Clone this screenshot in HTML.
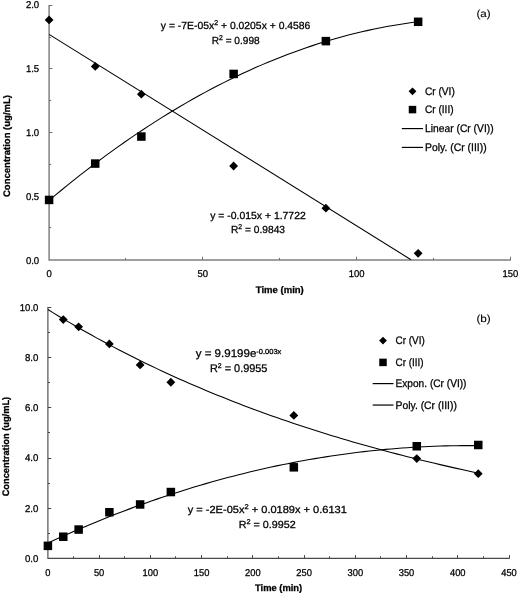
<!DOCTYPE html>
<html lang="en"><head><meta charset="utf-8"><title>Cr concentration vs time</title>
<style>
html,body{margin:0;padding:0;background:#fff}
svg{display:block}
text{font-family:"Liberation Sans", sans-serif;fill:#000;stroke:#000;stroke-width:0.28px;text-rendering:geometricPrecision}
</style></head><body>
<svg width="520" height="595" viewBox="0 0 520 595">
<rect width="520" height="595" fill="#fff"/>
<g stroke="#808080" stroke-width="1.5" fill="none">
<path d="M49.10 4.90V260.00H510.90"/>
<path d="M49.10 227.50h2.1M49.10 196.50h3.3M49.10 164.50h2.1M49.10 132.50h3.3M49.10 100.50h2.1M49.10 68.50h3.3M49.10 37.50h2.1M49.10 5.50h3.3M125.50 260.00v-2.1M202.50 260.00v-3.3M279.50 260.00v-2.1M356.50 260.00v-3.3M433.50 260.00v-2.1M510.50 260.00v-3.3" stroke-width="1" stroke="#707070"/>
</g>
<path d="M49.10 34.36L410.99 259.70" fill="none" stroke="#000" stroke-width="1.08" stroke-linejoin="round"/>
<path d="M49.10 200.44L55.35 195.19L61.61 190.01L67.86 184.91L74.12 179.89L80.37 174.94L86.63 170.07L92.88 165.28L99.14 160.57L105.39 155.93L111.65 151.37L117.90 146.88L124.16 142.47L130.41 138.14L136.67 133.88L142.92 129.71L149.18 125.60L155.43 121.58L161.69 117.63L167.94 113.76L174.20 109.96L180.45 106.24L186.71 102.60L192.96 99.04L199.22 95.55L205.47 92.14L211.73 88.80L217.98 85.54L224.24 82.36L230.49 79.26L236.75 76.23L243.00 73.28L249.26 70.40L255.51 67.61L261.77 64.88L268.02 62.24L274.28 59.67L280.53 57.18L286.79 54.76L293.04 52.43L299.30 50.17L305.55 47.98L311.81 45.87L318.06 43.84L324.32 41.89L330.57 40.01L336.83 38.21L343.08 36.48L349.34 34.84L355.59 33.27L361.85 31.77L368.10 30.35L374.36 29.01L380.61 27.75L386.87 26.56L393.12 25.45L399.38 24.42L405.63 23.46L411.89 22.58L418.14 21.77" fill="none" stroke="#000" stroke-width="1.08" stroke-linejoin="round"/>
<path d="M49.10 15.50L53.50 19.90L49.10 24.30L44.70 19.90Z"/>
<path d="M95.23 62.03L99.63 66.43L95.23 70.83L90.83 66.43Z"/>
<path d="M141.36 89.75L145.76 94.15L141.36 98.55L136.96 94.15Z"/>
<path d="M233.62 161.59L238.02 165.99L233.62 170.39L229.22 165.99Z"/>
<path d="M325.88 203.80L330.28 208.20L325.88 212.60L321.48 208.20Z"/>
<path d="M418.14 248.94L422.54 253.34L418.14 257.74L413.74 253.34Z"/>
<rect x="44.85" y="195.69" width="8.50" height="8.50"/>
<rect x="90.98" y="159.32" width="8.50" height="8.50"/>
<rect x="137.11" y="132.31" width="8.50" height="8.50"/>
<rect x="229.37" y="69.68" width="8.50" height="8.50"/>
<rect x="321.63" y="36.88" width="8.50" height="8.50"/>
<rect x="413.89" y="17.55" width="8.50" height="8.50"/>
<text x="39.20" y="264.00" font-size="9.9" text-anchor="end" textLength="13.30" lengthAdjust="spacingAndGlyphs">0.0</text>
<text x="39.20" y="200.00" font-size="9.9" text-anchor="end" textLength="13.30" lengthAdjust="spacingAndGlyphs">0.5</text>
<text x="39.20" y="136.00" font-size="9.9" text-anchor="end" textLength="13.30" lengthAdjust="spacingAndGlyphs">1.0</text>
<text x="39.20" y="72.00" font-size="9.9" text-anchor="end" textLength="13.30" lengthAdjust="spacingAndGlyphs">1.5</text>
<text x="39.20" y="8.00" font-size="9.9" text-anchor="end" textLength="13.30" lengthAdjust="spacingAndGlyphs">2.0</text>
<text x="49.10" y="277.30" font-size="9.9" text-anchor="middle" textLength="5.30" lengthAdjust="spacingAndGlyphs">0</text>
<text x="202.87" y="277.30" font-size="9.9" text-anchor="middle" textLength="10.60" lengthAdjust="spacingAndGlyphs">50</text>
<text x="356.63" y="277.30" font-size="9.9" text-anchor="middle" textLength="15.80" lengthAdjust="spacingAndGlyphs">100</text>
<text x="510.40" y="277.30" font-size="9.9" text-anchor="middle" textLength="15.80" lengthAdjust="spacingAndGlyphs">150</text>
<text x="279.80" y="293.30" font-size="9.5" text-anchor="middle" font-weight="bold" textLength="48.00" lengthAdjust="spacingAndGlyphs">Time (min)</text>
<text transform="translate(10.1 146) rotate(-90)" font-size="9.5" font-weight="bold" text-anchor="middle" textLength="102" lengthAdjust="spacingAndGlyphs">Concentration (ug/mL)</text>
<text x="476.40" y="17.40" font-size="10.3" textLength="14.20" lengthAdjust="spacingAndGlyphs" style="stroke-width:0.1px">(a)</text>
<text x="235.60" y="29.00" font-size="10.3" text-anchor="middle" textLength="149.50" lengthAdjust="spacingAndGlyphs">y = -7E-05x<tspan font-size="7" dy="-4">2</tspan><tspan dy="4"> + 0.0205x + 0.4586</tspan></text>
<text x="235.70" y="44.00" font-size="10.3" text-anchor="middle" textLength="48.00" lengthAdjust="spacingAndGlyphs">R<tspan font-size="7" dy="-4">2</tspan><tspan dy="4"> = 0.998</tspan></text>
<text x="258.00" y="218.50" font-size="10.3" text-anchor="middle" textLength="95.50" lengthAdjust="spacingAndGlyphs">y = -0.015x + 1.7722</text>
<text x="258.00" y="233.20" font-size="10.3" text-anchor="middle" textLength="54.00" lengthAdjust="spacingAndGlyphs">R<tspan font-size="7" dy="-4">2</tspan><tspan dy="4"> = 0.9843</tspan></text>
<path d="M412.50 87.40L416.40 91.30L412.50 95.20L408.60 91.30Z"/>
<rect x="408.75" y="105.85" width="7.50" height="7.50"/>
<path d="M401.80 128.60L423.00 128.60" fill="none" stroke="#000" stroke-width="1.15" stroke-linejoin="round"/>
<path d="M401.80 147.40L423.00 147.40" fill="none" stroke="#000" stroke-width="1.15" stroke-linejoin="round"/>
<text x="425.00" y="94.70" font-size="10.9" textLength="29.80" lengthAdjust="spacingAndGlyphs">Cr (VI)</text>
<text x="425.00" y="113.30" font-size="10.9" textLength="28.60" lengthAdjust="spacingAndGlyphs">Cr (III)</text>
<text x="425.00" y="132.00" font-size="10.9" textLength="68.60" lengthAdjust="spacingAndGlyphs">Linear (Cr (VI))</text>
<text x="425.00" y="150.80" font-size="10.9" textLength="61.60" lengthAdjust="spacingAndGlyphs">Poly. (Cr (III))</text>
<g stroke="#4a4a4a" stroke-width="1.15" fill="none">
<path d="M47.90 306.90V558.40H509.60"/>
<path d="M47.90 533.50h2.1M47.90 508.50h3.3M47.90 483.50h2.1M47.90 458.50h3.3M47.90 432.50h2.1M47.90 407.50h3.3M47.90 382.50h2.1M47.90 357.50h3.3M47.90 332.50h2.1M47.90 307.50h3.3M73.50 558.40v-2.1M99.50 558.40v-3.3M124.50 558.40v-2.1M150.50 558.40v-3.3M175.50 558.40v-2.1M201.50 558.40v-3.3M227.50 558.40v-2.1M252.50 558.40v-3.3M278.50 558.40v-2.1M304.50 558.40v-3.3M329.50 558.40v-2.1M355.50 558.40v-3.3M380.50 558.40v-2.1M406.50 558.40v-3.3M432.50 558.40v-2.1M457.50 558.40v-3.3M483.50 558.40v-2.1M509.50 558.40v-3.3" stroke-width="1" stroke="#444"/>
</g>
<path d="M47.90 309.51L53.35 312.86L58.80 316.17L64.24 319.43L69.69 322.65L75.14 325.82L80.59 328.95L86.03 332.04L91.48 335.09L96.93 338.10L102.38 341.06L107.82 343.99L113.27 346.88L118.72 349.73L124.17 352.54L129.61 355.31L135.06 358.04L140.51 360.74L145.96 363.40L151.40 366.03L156.85 368.62L162.30 371.17L167.75 373.70L173.19 376.18L178.64 378.64L184.09 381.06L189.54 383.44L194.99 385.80L200.43 388.12L205.88 390.42L211.33 392.68L216.78 394.91L222.22 397.11L227.67 399.28L233.12 401.43L238.57 403.54L244.01 405.63L249.46 407.68L254.91 409.71L260.36 411.71L265.80 413.69L271.25 415.64L276.70 417.56L282.15 419.46L287.59 421.33L293.04 423.17L298.49 424.99L303.94 426.79L309.38 428.56L314.83 430.31L320.28 432.04L325.73 433.74L331.17 435.42L336.62 437.07L342.07 438.71L347.52 440.32L352.97 441.91L358.41 443.48L363.86 445.02L369.31 446.55L374.76 448.06L380.20 449.54L385.65 451.01L391.10 452.45L396.55 453.88L401.99 455.29L407.44 456.68L412.89 458.05L418.34 459.40L423.78 460.73L429.23 462.05L434.68 463.34L440.13 464.62L445.57 465.89L451.02 467.13L456.47 468.36L461.92 469.57L467.36 470.77L472.81 471.95L478.26 473.11" fill="none" stroke="#000" stroke-width="1.08" stroke-linejoin="round"/>
<path d="M47.90 543.02L53.35 540.51L58.80 538.04L64.24 535.60L69.69 533.19L75.14 530.82L80.59 528.48L86.03 526.17L91.48 523.89L96.93 521.65L102.38 519.44L107.82 517.26L113.27 515.11L118.72 513.00L124.17 510.92L129.61 508.87L135.06 506.86L140.51 504.87L145.96 502.92L151.40 501.01L156.85 499.12L162.30 497.27L167.75 495.45L173.19 493.66L178.64 491.91L184.09 490.18L189.54 488.50L194.99 486.84L200.43 485.21L205.88 483.62L211.33 482.06L216.78 480.54L222.22 479.05L227.67 477.58L233.12 476.16L238.57 474.76L244.01 473.40L249.46 472.07L254.91 470.77L260.36 469.50L265.80 468.27L271.25 467.07L276.70 465.90L282.15 464.77L287.59 463.67L293.04 462.60L298.49 461.56L303.94 460.56L309.38 459.59L314.83 458.65L320.28 457.74L325.73 456.87L331.17 456.03L336.62 455.22L342.07 454.44L347.52 453.70L352.97 452.99L358.41 452.31L363.86 451.66L369.31 451.05L374.76 450.47L380.20 449.92L385.65 449.41L391.10 448.93L396.55 448.48L401.99 448.06L407.44 447.68L412.89 447.32L418.34 447.01L423.78 446.72L429.23 446.47L434.68 446.24L440.13 446.06L445.57 445.90L451.02 445.78L456.47 445.68L461.92 445.63L467.36 445.60L472.81 445.61L478.26 445.65" fill="none" stroke="#000" stroke-width="1.08" stroke-linejoin="round"/>
<path d="M63.27 315.14L67.67 319.54L63.27 323.94L58.87 319.54Z"/>
<path d="M78.64 322.42L83.04 326.82L78.64 331.22L74.24 326.82Z"/>
<path d="M109.38 339.48L113.78 343.88L109.38 348.28L104.98 343.88Z"/>
<path d="M140.12 360.56L144.52 364.96L140.12 369.36L135.72 364.96Z"/>
<path d="M170.86 377.87L175.26 382.27L170.86 386.67L166.46 382.27Z"/>
<path d="M293.82 410.99L298.22 415.39L293.82 419.79L289.42 415.39Z"/>
<path d="M416.78 454.14L421.18 458.54L416.78 462.94L412.38 458.54Z"/>
<path d="M478.26 469.32L482.66 473.72L478.26 478.12L473.86 473.72Z"/>
<rect x="43.65" y="541.61" width="8.50" height="8.50"/>
<rect x="59.02" y="532.47" width="8.50" height="8.50"/>
<rect x="74.39" y="525.30" width="8.50" height="8.50"/>
<rect x="105.13" y="507.98" width="8.50" height="8.50"/>
<rect x="135.87" y="500.21" width="8.50" height="8.50"/>
<rect x="166.61" y="487.79" width="8.50" height="8.50"/>
<rect x="289.57" y="463.07" width="8.50" height="8.50"/>
<rect x="412.53" y="442.00" width="8.50" height="8.50"/>
<rect x="474.01" y="440.74" width="8.50" height="8.50"/>
<text x="38.40" y="562.00" font-size="9.9" text-anchor="end" textLength="13.40" lengthAdjust="spacingAndGlyphs">0.0</text>
<text x="38.40" y="512.00" font-size="9.9" text-anchor="end" textLength="13.40" lengthAdjust="spacingAndGlyphs">2.0</text>
<text x="38.40" y="461.00" font-size="9.9" text-anchor="end" textLength="13.40" lengthAdjust="spacingAndGlyphs">4.0</text>
<text x="38.40" y="411.00" font-size="9.9" text-anchor="end" textLength="13.40" lengthAdjust="spacingAndGlyphs">6.0</text>
<text x="38.40" y="361.00" font-size="9.9" text-anchor="end" textLength="13.40" lengthAdjust="spacingAndGlyphs">8.0</text>
<text x="38.40" y="311.00" font-size="9.9" text-anchor="end" textLength="18.60" lengthAdjust="spacingAndGlyphs">10.0</text>
<text x="47.90" y="575.50" font-size="9.9" text-anchor="middle" textLength="5.20" lengthAdjust="spacingAndGlyphs">0</text>
<text x="99.13" y="575.50" font-size="9.9" text-anchor="middle" textLength="10.40" lengthAdjust="spacingAndGlyphs">50</text>
<text x="150.37" y="575.50" font-size="9.9" text-anchor="middle" textLength="15.60" lengthAdjust="spacingAndGlyphs">100</text>
<text x="201.60" y="575.50" font-size="9.9" text-anchor="middle" textLength="15.60" lengthAdjust="spacingAndGlyphs">150</text>
<text x="252.83" y="575.50" font-size="9.9" text-anchor="middle" textLength="15.60" lengthAdjust="spacingAndGlyphs">200</text>
<text x="304.07" y="575.50" font-size="9.9" text-anchor="middle" textLength="15.60" lengthAdjust="spacingAndGlyphs">250</text>
<text x="355.30" y="575.50" font-size="9.9" text-anchor="middle" textLength="15.60" lengthAdjust="spacingAndGlyphs">300</text>
<text x="406.53" y="575.50" font-size="9.9" text-anchor="middle" textLength="15.60" lengthAdjust="spacingAndGlyphs">350</text>
<text x="457.77" y="575.50" font-size="9.9" text-anchor="middle" textLength="15.60" lengthAdjust="spacingAndGlyphs">400</text>
<text x="509.00" y="575.50" font-size="9.9" text-anchor="middle" textLength="15.60" lengthAdjust="spacingAndGlyphs">450</text>
<text x="278.60" y="591.00" font-size="9.5" text-anchor="middle" font-weight="bold" textLength="47.20" lengthAdjust="spacingAndGlyphs">Time (min)</text>
<text transform="translate(9.2 446.6) rotate(-90)" font-size="9.5" font-weight="bold" text-anchor="middle" textLength="99.5" lengthAdjust="spacingAndGlyphs">Concentration (ug/mL)</text>
<text x="476.40" y="322.00" font-size="10.3" textLength="14.40" lengthAdjust="spacingAndGlyphs" style="stroke-width:0.1px">(b)</text>
<text x="195.70" y="357.00" font-size="11.1" textLength="85.60" lengthAdjust="spacingAndGlyphs">y = 9.9199e<tspan font-size="7.2" dy="-2.7">-0.003x</tspan></text>
<text x="238.70" y="372.40" font-size="11.1" text-anchor="middle" textLength="57.50" lengthAdjust="spacingAndGlyphs">R<tspan font-size="7" dy="-4">2</tspan><tspan dy="4"> = 0.9955</tspan></text>
<text x="267.30" y="512.80" font-size="10.3" text-anchor="middle" textLength="159.20" lengthAdjust="spacingAndGlyphs">y = -2E-05x<tspan font-size="7" dy="-4">2</tspan><tspan dy="4"> + 0.0189x + 0.6131</tspan></text>
<text x="267.20" y="528.00" font-size="10.3" text-anchor="middle" textLength="57.00" lengthAdjust="spacingAndGlyphs">R<tspan font-size="7" dy="-4">2</tspan><tspan dy="4"> = 0.9952</tspan></text>
<path d="M383.00 336.70L386.90 340.60L383.00 344.50L379.10 340.60Z"/>
<rect x="379.25" y="358.65" width="7.50" height="7.50"/>
<path d="M372.70 383.60L393.50 383.60" fill="none" stroke="#000" stroke-width="1.2" stroke-linejoin="round"/>
<path d="M372.70 405.05L393.50 405.05" fill="none" stroke="#000" stroke-width="1.2" stroke-linejoin="round"/>
<text x="395.50" y="343.80" font-size="10.9" textLength="29.20" lengthAdjust="spacingAndGlyphs">Cr (VI)</text>
<text x="395.50" y="365.60" font-size="10.9" textLength="28.00" lengthAdjust="spacingAndGlyphs">Cr (III)</text>
<text x="395.50" y="387.10" font-size="10.9" textLength="71.00" lengthAdjust="spacingAndGlyphs">Expon. (Cr (VI))</text>
<text x="395.50" y="408.80" font-size="10.9" textLength="61.40" lengthAdjust="spacingAndGlyphs">Poly. (Cr (III))</text>
</svg>
</body></html>
